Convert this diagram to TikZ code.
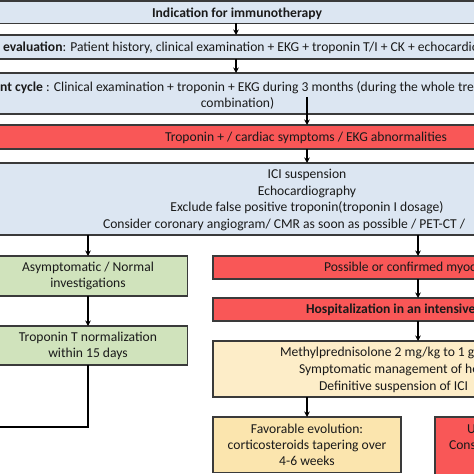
\documentclass[tikz,border=0pt]{standalone}
\usepackage{fontspec}
\setmainfont{Carlito}
\usetikzlibrary{arrows.meta}
\definecolor{lblue}{HTML}{DCE6F2}
\definecolor{rbox}{HTML}{F95757}
\definecolor{gbox}{HTML}{D0E3BC}
\definecolor{ybox}{HTML}{FDEDC8}
\definecolor{fbox}{HTML}{FBE5AE}
\definecolor{edge}{HTML}{3A3A3A}
\definecolor{txt}{HTML}{1A1A1A}
\tikzset{
  boxst/.style={draw=edge, line width=1.2bp, rectangle, inner sep=0pt, outer sep=0pt},
  lbl/.style={inner sep=0pt, outer sep=0pt, text=txt, anchor=base},
  lblw/.style={inner sep=0pt, outer sep=0pt, text=txt, anchor=base west},
  lble/.style={inner sep=0pt, outer sep=0pt, text=txt, anchor=base east},
  arr/.style={draw=black, line width=1.2bp, -{Stealth[length=5.5bp,width=5.5bp]}},
  conn/.style={draw=black, line width=1.2bp}
}
\begin{document}
\begin{tikzpicture}[x=1bp, y=-1bp, font=\fontsize{13.6bp}{16.5bp}\selectfont]
\useasboundingbox (0,0) rectangle (474,474);
\clip (0,0) rectangle (474,474);
\fill[white] (0,0) rectangle (474,474);
% boxes
\node[boxst, fill=lblue, minimum width=540bp, minimum height=22bp] (b1) at (237,12.2) {};
\node[boxst, fill=lblue, minimum width=540bp, minimum height=24bp] (b2) at (237,47) {};
\node[boxst, fill=lblue, minimum width=540bp, minimum height=41bp] (b3) at (237,93.5) {};
\node[boxst, fill=rbox, minimum width=540bp, minimum height=24bp] (b4) at (237,137) {};
\node[boxst, fill=lblue, minimum width=540bp, minimum height=72bp] (b5) at (237,199) {};
\node[boxst, fill=gbox, minimum width=199bp, minimum height=40bp] (g1) at (88,276) {};
\node[boxst, fill=gbox, minimum width=199bp, minimum height=39bp] (g2) at (88,345.5) {};
\node[boxst, fill=rbox, minimum width=307bp, minimum height=23bp] (r1) at (366.5,267.5) {};
\node[boxst, fill=rbox, minimum width=307bp, minimum height=23bp] (r2) at (366.5,309.5) {};
\node[boxst, fill=ybox, minimum width=307bp, minimum height=56bp] (y1) at (366.5,369) {};
\node[boxst, fill=fbox, minimum width=188bp, minimum height=55.5bp] (f1) at (307,444.75) {};
\node[boxst, fill=rbox, minimum width=100bp, minimum height=80bp] (r3) at (485,457) {};
% texts
\node[lbl] (t1) at (237,17.6) {\textbf{Indication for immunotherapy}};
\node[lblw] (t2) at (3,51.6) {\textbf{evaluation}: Patient history, clinical examination + EKG + troponin T/I + CK + echocardiography};
\node[lble] (t2a) at ([xshift=-3.2bp]t2.base west) {\textbf{Baseline}};
\node[lble] (t3a) at (43,91.6) {\textbf{Treatment cycle}};
\node[lblw] (t3b) at ([xshift=3.2bp]t3a.base east) {: Clinical examination + troponin + EKG during 3 months (during the whole treatment};
\node[lbl] (t3c) at (237.5,107.6) {combination)};
\node[lbl] (t4) at (306,141.6) {Troponin + / cardiac symptoms / EKG abnormalities};
\node[lbl] (t5a) at (307,179) {ICI suspension};
\node[lbl] (t5b) at (307,195.5) {Echocardiography};
\node[lbl] (t5c) at (307,212) {Exclude false positive troponin(troponin I dosage)};
\node[lblw] (t5d) at (103,228.5) {Consider coronary angiogram/ CMR as soon as possible / PET-CT /};
\node[lbl] (tg1a) at (88,271.6) {Asymptomatic / Normal};
\node[lbl] (tg1b) at (88,287.6) {investigations};
\node[lbl] (tg2a) at (88,341.4) {Troponin T normalization};
\node[lbl] (tg2b) at (88,357.2) {within 15 days};
\node[lblw] (tr1) at (324,271.8) {Possible or confirmed myocarditis};
\node[lblw] (tr2) at (306,313.4) {\textbf{Hospitalization in an intensive care unit}};
\node[lblw] (ty1) at (280,356.8) {Methylprednisolone 2 mg/kg to 1 g/day};
\node[lblw] (ty2) at (299,373.6) {Symptomatic management of heart failure};
\node[lblw] (ty3) at (319,390.2) {Definitive suspension of ICI};
\node[lbl] (tf1) at (307,433.2) {Favorable evolution:};
\node[lbl] (tf2) at (307,449.2) {corticosteroids tapering over};
\node[lbl] (tf3) at (307,465.2) {4-6 weeks};
\node[lblw] (tr3a) at (467,433.2) {Unfavorable};
\node[lblw] (tr3b) at (449,449.2) {Consider};
% connector columns
\coordinate (cA) at (236,0);
\coordinate (cB) at (307,0);
\coordinate (cC) at (418,0);
\coordinate (cD) at (88,0);
\coordinate (s3) at (307,97);
\coordinate (bend) at (88,427);
\coordinate (loose) at (-6,427);
% connectors
\draw[arr] (b1.south -| cA) -- (b2.north -| cA);
\draw[arr] (b2.south -| cA) -- (b3.north -| cA);
\draw[arr] (s3) -- (b4.north -| cB);
\draw[arr] (b4.south -| cB) -- (b5.north -| cB);
\draw[arr] (b5.south -| cD) -- (g1.north);
\draw[arr] (b5.south -| cC) -- (r1.north -| cC);
\draw[arr] (g1.south) -- (g2.north);
\draw[conn] (g2.south) -- (bend) -- (loose);
\draw[arr] (r1.south -| cC) -- (r2.north -| cC);
\draw[arr] (r2.south -| cC) -- (y1.north -| cC);
\draw[arr] (y1.south -| f1.north) -- (f1.north);
% top frame band
\draw[edge, line width=1.5bp] (0,0.75) -- (474,0.75);
\end{tikzpicture}
\end{document}
